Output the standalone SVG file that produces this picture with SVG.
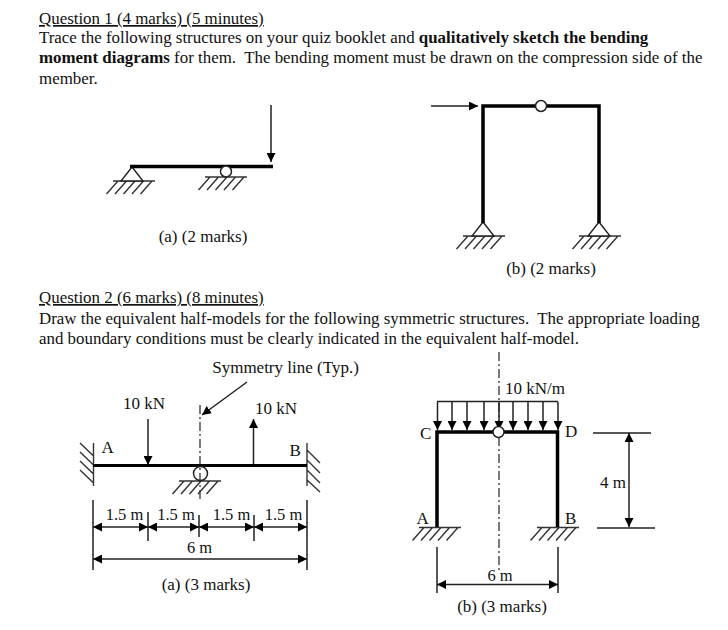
<svg xmlns="http://www.w3.org/2000/svg" width="728" height="630" viewBox="0 0 728 630">
<style>
text{font-family:"Liberation Serif","Times New Roman",serif;font-size:17px;fill:#111;white-space:pre}
.body{font-size:16.900px}
.dim{font-size:16.500px}
.b{font-weight:bold}
.m{text-anchor:middle}
.u{text-decoration:underline}
.thick{stroke:#000;stroke-width:3.500;fill:none}
.thin{stroke:#222;stroke-width:1.500;fill:none}
.hat{stroke:#333;stroke-width:1.400;fill:none}
.sym{stroke:#333;stroke-width:1.300;fill:none;stroke-dasharray:9 3 2 3}
.pin{fill:#fff;stroke:#222;stroke-width:1.500}
</style>
<defs>
<marker id="ah" viewBox="0 0 10 10" refX="10" refY="5" markerWidth="9" markerHeight="9" markerUnits="userSpaceOnUse" orient="auto-start-reverse"><path d="M0 0L10 5L0 10z" fill="#000"/></marker>
<path id="g" d="M-21 0H21M-16 0L-27.500 13M-7.500 0L-19 13M1 0L-10.500 13M9.500 0L-2 13M18 0L6.500 13" class="hat"/>
<path id="tri" d="M0 -14L-11 0H11z" fill="#fff" stroke="#222" stroke-width="1.400"/>
</defs>

<g id="text-block">
<text x="39" y="24" class="body u">Question 1 (4 marks) (5 minutes)</text>
<text x="39" y="43" class="body">Trace the following structures on your quiz booklet and <tspan class="b">qualitatively sketch the bending</tspan></text>
<text x="39" y="63" class="body"><tspan class="b">moment diagrams</tspan> for them.  The bending moment must be drawn on the compression side of the</text>
<text x="39" y="84" class="body">member.</text>
<text x="39" y="303" class="body u">Question 2 (6 marks) (8 minutes)</text>
<text x="39" y="324" class="body">Draw the equivalent half-models for the following symmetric structures.  The appropriate loading</text>
<text x="39" y="344" class="body">and boundary conditions must be clearly indicated in the equivalent half-model.</text>
</g>

<g id="connectors">
<line x1="271" y1="105" x2="271" y2="162" class="thin" marker-end="url(#ah)"/>
<line x1="431" y1="106" x2="478" y2="106" class="thin" marker-end="url(#ah)"/>
<line x1="200" y1="405" x2="200" y2="500" class="sym"/>
<line x1="148" y1="419" x2="148" y2="465" class="thin" marker-end="url(#ah)"/>
<line x1="253.500" y1="465" x2="253.500" y2="419" class="thin" marker-end="url(#ah)"/>
<line x1="247" y1="382" x2="202" y2="415" class="thin" marker-end="url(#ah)"/>
<path d="M93 500V570M148 512V541M199 515V537M254 515V541M307 500V570" class="thin"/>
<line x1="93" y1="527" x2="148" y2="527" class="thin" marker-start="url(#ah)" marker-end="url(#ah)"/>
<line x1="148" y1="527" x2="199" y2="527" class="thin" marker-start="url(#ah)" marker-end="url(#ah)"/>
<line x1="199" y1="527" x2="254" y2="527" class="thin" marker-start="url(#ah)" marker-end="url(#ah)"/>
<line x1="254" y1="527" x2="307" y2="527" class="thin" marker-start="url(#ah)" marker-end="url(#ah)"/>
<line x1="93" y1="559" x2="307" y2="559" class="thin" marker-start="url(#ah)" marker-end="url(#ah)"/>
<line x1="499" y1="352" x2="499" y2="570" class="sym"/>
<path d="M437 401.500H558" class="thin"/>
<line x1="437.500" y1="402" x2="437.500" y2="430" class="thin" marker-end="url(#ah)"/>
<line x1="452" y1="402" x2="452" y2="430" class="thin" marker-end="url(#ah)"/>
<line x1="467" y1="402" x2="467" y2="430" class="thin" marker-end="url(#ah)"/>
<line x1="484" y1="402" x2="484" y2="430" class="thin" marker-end="url(#ah)"/>
<line x1="499" y1="402" x2="499" y2="430" class="thin" marker-end="url(#ah)"/>
<line x1="513" y1="402" x2="513" y2="430" class="thin" marker-end="url(#ah)"/>
<line x1="528" y1="402" x2="528" y2="430" class="thin" marker-end="url(#ah)"/>
<line x1="543" y1="402" x2="543" y2="430" class="thin" marker-end="url(#ah)"/>
<line x1="558" y1="402" x2="558" y2="430" class="thin" marker-end="url(#ah)"/>
<path d="M437 547V593M558 547V593M593 433H651M597 528H655" class="thin"/>
<line x1="437" y1="584.500" x2="558" y2="584.500" class="thin" marker-start="url(#ah)" marker-end="url(#ah)"/>
<line x1="629" y1="433" x2="629" y2="527" class="thin" marker-start="url(#ah)" marker-end="url(#ah)"/>
</g>

<g id="q1a">
<use href="#g" x="134" y="181"/>
<use href="#tri" x="132" y="181"/>
<use href="#g" x="226" y="177"/>
<line x1="130" y1="166.500" x2="273" y2="166.500" class="thick"/>
<circle cx="226" cy="171.500" r="5.500" class="pin"/>
<text x="203" y="242" class="m">(a) (2 marks)</text>
</g>

<g id="q1b">
<use href="#g" x="484" y="236"/>
<use href="#tri" x="483" y="236"/>
<use href="#g" x="600" y="236"/>
<use href="#tri" x="599" y="236"/>
<path d="M483 223V106H599V223" class="thick"/>
<circle cx="541" cy="106" r="5.500" class="pin"/>
<text x="551" y="274" class="m">(b) (2 marks)</text>
</g>

<g id="q2a">
<path d="M93.500 443V486M93.500 456L80 443M93.500 465L80 452M93.500 474L80 461M93.500 483L80 470M307 443V486M307 450L320 463M307 460L320 473M307 470L320 483M307 480L320 492" class="hat"/>
<use href="#g" x="200" y="481"/>
<line x1="93" y1="465.500" x2="307" y2="465.500" class="thick" style="stroke-width:3"/>
<circle cx="200.500" cy="473.500" r="7" class="pin" style="fill:none"/>
<text x="285.500" y="373" class="m">Symmetry line (Typ.)</text>
<text x="144" y="409" class="m">10 kN</text>
<text x="276" y="414" class="m">10 kN</text>
<text x="101.500" y="453">A</text>
<text x="289.500" y="456">B</text>
<text x="124.500" y="520" class="dim m">1.5 m</text>
<text x="176" y="520" class="dim m">1.5 m</text>
<text x="231.500" y="520" class="dim m">1.5 m</text>
<text x="283.500" y="520" class="dim m">1.5 m</text>
<text x="199.500" y="553" class="dim m">6 m</text>
<text x="206" y="590" class="m">(a) (3 marks)</text>
</g>

<g id="q2b">
<use href="#g" x="440" y="527.500"/>
<use href="#g" x="558" y="527.500"/>
<path d="M437 527V432H557.500V527" class="thick"/>
<circle cx="498.500" cy="432" r="5.500" class="pin"/>
<text x="505" y="394">10 kN/m</text>
<text x="420" y="439">C</text>
<text x="565" y="437">D</text>
<text x="416.500" y="524">A</text>
<text x="565" y="524">B</text>
<text x="600" y="488">4 m</text>
<text x="500" y="581" class="dim m">6 m</text>
<text x="502" y="612" class="m">(b) (3 marks)</text>
</g>
</svg>
